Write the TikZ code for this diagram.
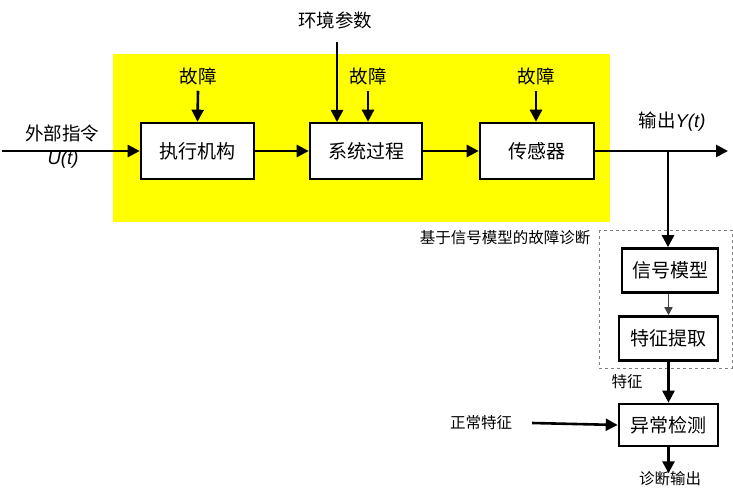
\documentclass[tikz,border=0pt]{standalone}
\usepackage{fontspec}
\setmainfont{Noto Sans CJK SC}
\newfontfamily\latf{Liberation Sans}
\usetikzlibrary{arrows.meta}
\definecolor{ylw}{RGB}{255,255,0}
\begin{document}
\begin{tikzpicture}[x=1pt,y=-1pt,
  blk/.style={draw,line width=2.6pt,fill=white,minimum width=#1,minimum height=56pt,font=\fontsize{19}{19}\selectfont,inner sep=0pt},
  arr/.style={line width=2.6pt,-{Triangle[length=12pt,width=12pt]}},
  lbl/.style={font=\fontsize{18.5}{18.5}\selectfont,inner sep=0pt},
  slbl/.style={font=\fontsize{15.5}{15.5}\selectfont,inner sep=0pt}]
\useasboundingbox (0,0) rectangle (733,497);
\fill[ylw] (113,54) rectangle (610,222);
\draw[gray,dashed,line width=0.8pt] (599,230) rectangle (732,368);
\node[blk=113pt] (a) at (197.5,151) {执行机构};
\node[blk=112pt] (s) at (366,151) {系统过程};
\node[blk=114pt] (c) at (537,151) {传感器};
\node[blk=96pt,minimum height=44pt] (m) at (670,270.5) {信号模型};
\node[blk=99pt,minimum height=44pt] (f) at (668.5,338.5) {特征提取};
\node[blk=99pt,minimum height=42pt] (d) at (668.5,425) {异常检测};
\node[lbl] (in) at (62,133) {外部指令};
\node[lbl] (u) at (63,160) {\latf\itshape U(t)};
\coordinate (i0) at (2,151);
\node[lbl] (f1) at (198,76) {故障};
\node[lbl] (f2) at (368,76) {故障};
\node[lbl] (f3) at (536,76) {故障};
\node[lbl] (env) at (335,20) {环境参数};
\node[lbl] (y) at (672,122) {输出{\latf\itshape Y(t)}};
\node[slbl] (sm) at (505,238) {基于信号模型的故障诊断};
\node[slbl] (tz) at (627,382) {特征};
\node[slbl] (nz) at (481,423) {正常特征};
\node[slbl] (out) at (670,479) {诊断输出};
\coordinate (o1) at (728,151);
\coordinate (br) at (668,151);
\draw[arr] (i0) -- (a);
\draw[arr] (a) -- (s);
\draw[arr] (s) -- (c);
\draw[arr] (c) -- (o1);
\draw[arr] (f1.south) ++(0,6) -- (a.north);
\draw[arr] (f2.south) ++(0,6) -- (s.north -| f2.south);
\draw[arr] (f3.south) ++(0,6) -- (c.north -| f3.south);
\draw[arr] (337,42) -- (337,122);
\draw[arr] (br) -- (br |- m.north);
\draw[line width=1.5pt,darkgray,-{Triangle[length=8pt,width=8pt]}] (m.south -| f) -- (f.north);
\draw[arr] (f) -- (d);
\draw[arr] (nz.east) ++(20,0) -- (d.west);
\draw[arr] (d.south) -- ++(0,26);
\end{tikzpicture}
\end{document}
